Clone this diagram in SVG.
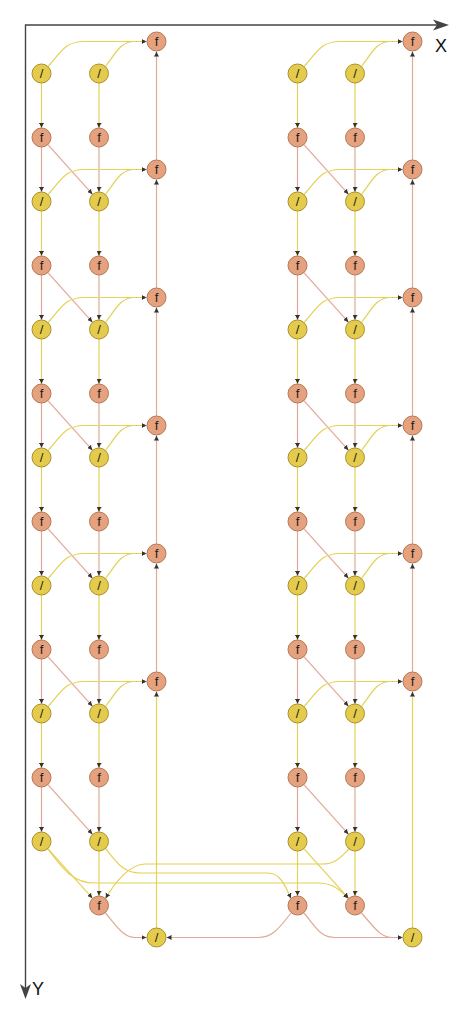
<svg xmlns="http://www.w3.org/2000/svg" xmlns:xlink="http://www.w3.org/1999/xlink" width="474" height="1024" viewBox="0 0 474 1024">
<style>
.fn circle{fill:#e6a17e;stroke:#b5785a;stroke-width:1}
.dn circle{fill:#e5cb4c;stroke:#a8912f;stroke-width:1}
.fn text,.dn text{font-family:"Liberation Sans",Arial,sans-serif;font-size:13px;fill:#222;text-anchor:middle}
.eo{fill:none;stroke:#e0a994;stroke-width:1.2;marker-end:url(#ah)}
.ey{fill:none;stroke:#e6d056;stroke-width:1.2;marker-end:url(#ah)}
.ax{fill:none;stroke:#444;stroke-width:1.4}
.lbl{font-family:"Liberation Sans",Arial,sans-serif;font-size:18px;fill:#111}
</style>
<defs>
<marker id="ah" viewBox="0 0 6 6" refX="6" refY="3" markerWidth="5" markerHeight="5" orient="auto" markerUnits="userSpaceOnUse">
<path d="M0,0.3 L6,3 L0,5.7 z M0,0 H0.9 V6 H0 z" fill="#333"/>
</marker>
<g id="per">
<path class="ey" d="M48,-7 C62,-23 66,-32 84,-32 H146.5"/>
<path class="ey" d="M105.5,-7 C116,-21 121,-32 134,-32 H146.5"/>
<path class="ey" d="M41.5,9.5 V54.5"/>
<path class="ey" d="M99,9.5 V54.5"/>
<path class="eo" d="M41.5,73.5 V118.5"/>
<path class="eo" d="M47.85,71.1 L92.45,120.7"/>
<path class="eo" d="M99,73.5 V118.5"/>
</g>
</defs>
<rect width="474" height="1024" fill="#fff"/>
<g id="axes">
<path class="ax" d="M25.5,990 V25 H440"/>
<path d="M449,25 L433,19.5 L437,25 L433,30.5 Z" fill="#444"/>
<path d="M25.5,999 L20,984 L25.5,988 L31,984 Z" fill="#444"/>
<text class="lbl" x="435" y="52">X</text>
<text class="lbl" x="32" y="995">Y</text>
</g>
<g id="connectors">
<use xlink:href="#per" transform="translate(0,73.5)"/>
<use xlink:href="#per" transform="translate(0,201.5)"/>
<use xlink:href="#per" transform="translate(0,329.5)"/>
<use xlink:href="#per" transform="translate(0,457.5)"/>
<use xlink:href="#per" transform="translate(0,585.5)"/>
<use xlink:href="#per" transform="translate(0,713.5)"/>
<use xlink:href="#per" transform="translate(256,73.5)"/>
<use xlink:href="#per" transform="translate(256,201.5)"/>
<use xlink:href="#per" transform="translate(256,329.5)"/>
<use xlink:href="#per" transform="translate(256,457.5)"/>
<use xlink:href="#per" transform="translate(256,585.5)"/>
<use xlink:href="#per" transform="translate(256,713.5)"/>
<path class="eo" d="M156.5,160 V51.5"/>
<path class="eo" d="M156.5,288 V179.5"/>
<path class="eo" d="M156.5,416 V307.5"/>
<path class="eo" d="M156.5,544 V435.5"/>
<path class="eo" d="M156.5,672 V563.5"/>
<path class="eo" d="M412.5,160 V51.5"/>
<path class="eo" d="M412.5,288 V179.5"/>
<path class="eo" d="M412.5,416 V307.5"/>
<path class="eo" d="M412.5,544 V435.5"/>
<path class="eo" d="M412.5,672 V563.5"/>
<path class="ey" d="M156.5,928 V691.5"/>
<path class="ey" d="M412.5,928 V691.5"/>
<path class="ey" d="M47.85,848.6 L92.45,898.2"/>
<path class="ey" d="M99,851 V896"/>
<path class="ey" d="M47.5,848.5 C60,864 70,883 95,883 L318,883 C333,883 340,890 348.5,898.5"/>
<path class="ey" d="M105.5,848.5 C115,860 122,873 140,873 L268,873 C280,873 285,885 291,898.5"/>
<path class="ey" d="M349,849 C340,858 335,864 322,864 L145,864 C130,864 115,882 105.5,898.5"/>
<path class="ey" d="M297.5,851 V896"/>
<path class="ey" d="M303.85,848.6 L348.45,898.2"/>
<path class="ey" d="M355,851 V896"/>
<path class="eo" d="M105.5,913 C118,928 124,937.5 135,937.5 H146.5"/>
<path class="eo" d="M291,913 C280,927 273,937.5 258,937.5 H166.5"/>
<path class="eo" d="M304,913 C316,927 320,937.5 335,937.5 H402.5"/>
<path class="eo" d="M361.5,913 C375,928 380,937.5 393,937.5 H402.5"/>
</g>
<g id="nodes">
<g id="L_c0" class="fn"><circle cx="156.5" cy="41.5" r="9.5"/><text x="156.5" y="46">f</text></g>
<g id="L_c4" class="fn"><circle cx="156.5" cy="169.5" r="9.5"/><text x="156.5" y="174">f</text></g>
<g id="L_c8" class="fn"><circle cx="156.5" cy="297.5" r="9.5"/><text x="156.5" y="302">f</text></g>
<g id="L_c12" class="fn"><circle cx="156.5" cy="425.5" r="9.5"/><text x="156.5" y="430">f</text></g>
<g id="L_c16" class="fn"><circle cx="156.5" cy="553.5" r="9.5"/><text x="156.5" y="558">f</text></g>
<g id="L_c20" class="fn"><circle cx="156.5" cy="681.5" r="9.5"/><text x="156.5" y="686">f</text></g>
<g id="L_a1" class="dn"><circle cx="41.5" cy="73.5" r="9.5"/><text x="41.5" y="78">/</text></g>
<g id="L_b1" class="dn"><circle cx="99" cy="73.5" r="9.5"/><text x="99" y="78">/</text></g>
<g id="L_a3" class="fn"><circle cx="41.5" cy="137.5" r="9.5"/><text x="41.5" y="142">f</text></g>
<g id="L_b3" class="fn"><circle cx="99" cy="137.5" r="9.5"/><text x="99" y="142">f</text></g>
<g id="L_a5" class="dn"><circle cx="41.5" cy="201.5" r="9.5"/><text x="41.5" y="206">/</text></g>
<g id="L_b5" class="dn"><circle cx="99" cy="201.5" r="9.5"/><text x="99" y="206">/</text></g>
<g id="L_a7" class="fn"><circle cx="41.5" cy="265.5" r="9.5"/><text x="41.5" y="270">f</text></g>
<g id="L_b7" class="fn"><circle cx="99" cy="265.5" r="9.5"/><text x="99" y="270">f</text></g>
<g id="L_a9" class="dn"><circle cx="41.5" cy="329.5" r="9.5"/><text x="41.5" y="334">/</text></g>
<g id="L_b9" class="dn"><circle cx="99" cy="329.5" r="9.5"/><text x="99" y="334">/</text></g>
<g id="L_a11" class="fn"><circle cx="41.5" cy="393.5" r="9.5"/><text x="41.5" y="398">f</text></g>
<g id="L_b11" class="fn"><circle cx="99" cy="393.5" r="9.5"/><text x="99" y="398">f</text></g>
<g id="L_a13" class="dn"><circle cx="41.5" cy="457.5" r="9.5"/><text x="41.5" y="462">/</text></g>
<g id="L_b13" class="dn"><circle cx="99" cy="457.5" r="9.5"/><text x="99" y="462">/</text></g>
<g id="L_a15" class="fn"><circle cx="41.5" cy="521.5" r="9.5"/><text x="41.5" y="526">f</text></g>
<g id="L_b15" class="fn"><circle cx="99" cy="521.5" r="9.5"/><text x="99" y="526">f</text></g>
<g id="L_a17" class="dn"><circle cx="41.5" cy="585.5" r="9.5"/><text x="41.5" y="590">/</text></g>
<g id="L_b17" class="dn"><circle cx="99" cy="585.5" r="9.5"/><text x="99" y="590">/</text></g>
<g id="L_a19" class="fn"><circle cx="41.5" cy="649.5" r="9.5"/><text x="41.5" y="654">f</text></g>
<g id="L_b19" class="fn"><circle cx="99" cy="649.5" r="9.5"/><text x="99" y="654">f</text></g>
<g id="L_a21" class="dn"><circle cx="41.5" cy="713.5" r="9.5"/><text x="41.5" y="718">/</text></g>
<g id="L_b21" class="dn"><circle cx="99" cy="713.5" r="9.5"/><text x="99" y="718">/</text></g>
<g id="L_a23" class="fn"><circle cx="41.5" cy="777.5" r="9.5"/><text x="41.5" y="782">f</text></g>
<g id="L_b23" class="fn"><circle cx="99" cy="777.5" r="9.5"/><text x="99" y="782">f</text></g>
<g id="L_a25" class="dn"><circle cx="41.5" cy="841.5" r="9.5"/><text x="41.5" y="846">/</text></g>
<g id="L_b25" class="dn"><circle cx="99" cy="841.5" r="9.5"/><text x="99" y="846">/</text></g>
<g id="L_b27" class="fn"><circle cx="99" cy="905.5" r="9.5"/><text x="99" y="910">f</text></g>
<g id="L_c28" class="dn"><circle cx="156.5" cy="937.5" r="9.5"/><text x="156.5" y="942">/</text></g>
<g id="R_c0" class="fn"><circle cx="412.5" cy="41.5" r="9.5"/><text x="412.5" y="46">f</text></g>
<g id="R_c4" class="fn"><circle cx="412.5" cy="169.5" r="9.5"/><text x="412.5" y="174">f</text></g>
<g id="R_c8" class="fn"><circle cx="412.5" cy="297.5" r="9.5"/><text x="412.5" y="302">f</text></g>
<g id="R_c12" class="fn"><circle cx="412.5" cy="425.5" r="9.5"/><text x="412.5" y="430">f</text></g>
<g id="R_c16" class="fn"><circle cx="412.5" cy="553.5" r="9.5"/><text x="412.5" y="558">f</text></g>
<g id="R_c20" class="fn"><circle cx="412.5" cy="681.5" r="9.5"/><text x="412.5" y="686">f</text></g>
<g id="R_a1" class="dn"><circle cx="297.5" cy="73.5" r="9.5"/><text x="297.5" y="78">/</text></g>
<g id="R_b1" class="dn"><circle cx="355" cy="73.5" r="9.5"/><text x="355" y="78">/</text></g>
<g id="R_a3" class="fn"><circle cx="297.5" cy="137.5" r="9.5"/><text x="297.5" y="142">f</text></g>
<g id="R_b3" class="fn"><circle cx="355" cy="137.5" r="9.5"/><text x="355" y="142">f</text></g>
<g id="R_a5" class="dn"><circle cx="297.5" cy="201.5" r="9.5"/><text x="297.5" y="206">/</text></g>
<g id="R_b5" class="dn"><circle cx="355" cy="201.5" r="9.5"/><text x="355" y="206">/</text></g>
<g id="R_a7" class="fn"><circle cx="297.5" cy="265.5" r="9.5"/><text x="297.5" y="270">f</text></g>
<g id="R_b7" class="fn"><circle cx="355" cy="265.5" r="9.5"/><text x="355" y="270">f</text></g>
<g id="R_a9" class="dn"><circle cx="297.5" cy="329.5" r="9.5"/><text x="297.5" y="334">/</text></g>
<g id="R_b9" class="dn"><circle cx="355" cy="329.5" r="9.5"/><text x="355" y="334">/</text></g>
<g id="R_a11" class="fn"><circle cx="297.5" cy="393.5" r="9.5"/><text x="297.5" y="398">f</text></g>
<g id="R_b11" class="fn"><circle cx="355" cy="393.5" r="9.5"/><text x="355" y="398">f</text></g>
<g id="R_a13" class="dn"><circle cx="297.5" cy="457.5" r="9.5"/><text x="297.5" y="462">/</text></g>
<g id="R_b13" class="dn"><circle cx="355" cy="457.5" r="9.5"/><text x="355" y="462">/</text></g>
<g id="R_a15" class="fn"><circle cx="297.5" cy="521.5" r="9.5"/><text x="297.5" y="526">f</text></g>
<g id="R_b15" class="fn"><circle cx="355" cy="521.5" r="9.5"/><text x="355" y="526">f</text></g>
<g id="R_a17" class="dn"><circle cx="297.5" cy="585.5" r="9.5"/><text x="297.5" y="590">/</text></g>
<g id="R_b17" class="dn"><circle cx="355" cy="585.5" r="9.5"/><text x="355" y="590">/</text></g>
<g id="R_a19" class="fn"><circle cx="297.5" cy="649.5" r="9.5"/><text x="297.5" y="654">f</text></g>
<g id="R_b19" class="fn"><circle cx="355" cy="649.5" r="9.5"/><text x="355" y="654">f</text></g>
<g id="R_a21" class="dn"><circle cx="297.5" cy="713.5" r="9.5"/><text x="297.5" y="718">/</text></g>
<g id="R_b21" class="dn"><circle cx="355" cy="713.5" r="9.5"/><text x="355" y="718">/</text></g>
<g id="R_a23" class="fn"><circle cx="297.5" cy="777.5" r="9.5"/><text x="297.5" y="782">f</text></g>
<g id="R_b23" class="fn"><circle cx="355" cy="777.5" r="9.5"/><text x="355" y="782">f</text></g>
<g id="R_a25" class="dn"><circle cx="297.5" cy="841.5" r="9.5"/><text x="297.5" y="846">/</text></g>
<g id="R_b25" class="dn"><circle cx="355" cy="841.5" r="9.5"/><text x="355" y="846">/</text></g>
<g id="R_a27" class="fn"><circle cx="297.5" cy="905.5" r="9.5"/><text x="297.5" y="910">f</text></g>
<g id="R_b27" class="fn"><circle cx="355" cy="905.5" r="9.5"/><text x="355" y="910">f</text></g>
<g id="R_c28" class="dn"><circle cx="412.5" cy="937.5" r="9.5"/><text x="412.5" y="942">/</text></g>
</g>
</svg>
